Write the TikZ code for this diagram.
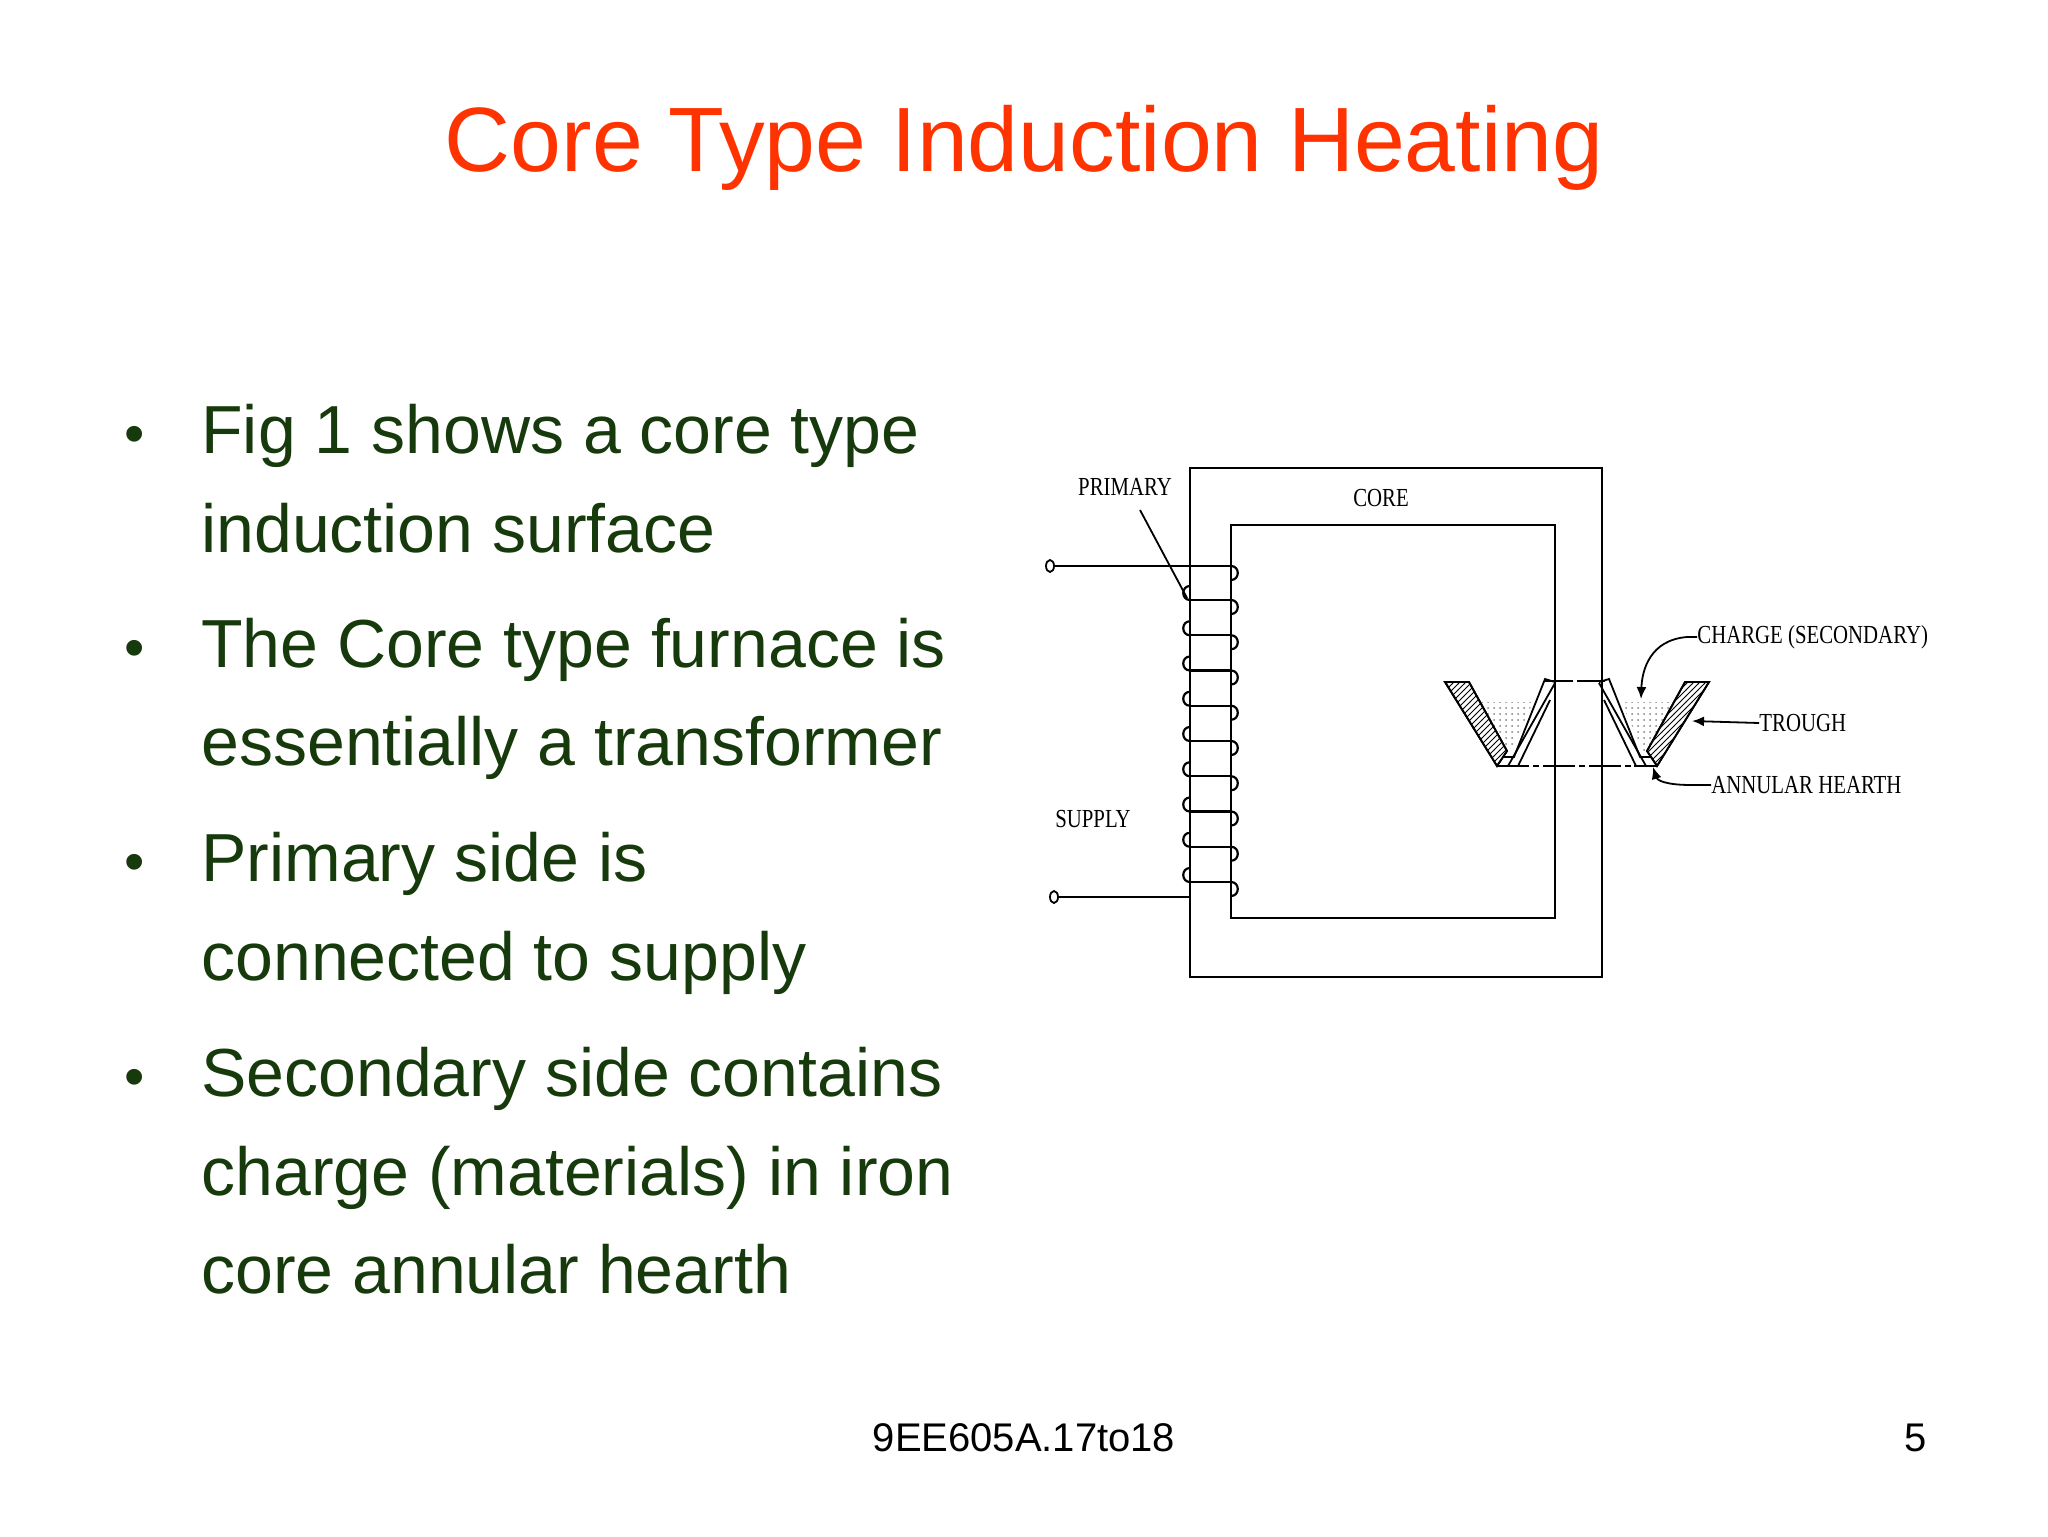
\documentclass[tikz,border=0pt]{standalone}
\usepackage{fontspec}
\setmainfont{Liberation Sans}
\newfontfamily\lab[FakeStretch=0.8]{Liberation Serif}
\usetikzlibrary{arrows.meta,patterns,shapes.geometric}
\definecolor{titlecol}{RGB}{255,51,0}
\definecolor{bulcol}{RGB}{22,58,12}
\tikzset{
  ttl/.style={text=titlecol,font=\fontsize{45.7}{50}\selectfont},
  bul/.style={text=bulcol,anchor=base west,font=\fontsize{34}{40}\selectfont,inner sep=0},
  dot/.style={text=bulcol,anchor=base,font=\fontsize{29}{30}\selectfont,inner sep=0},
  foot/.style={font=\fontsize{20}{22}\selectfont,anchor=base},
  lbl/.style={font=\lab\fontsize{13}{14}\selectfont,inner sep=0},
  core/.style={line width=1.3pt},
  wire/.style={line width=1.1pt},
  term/.style={ellipse,draw,line width=0.9pt,minimum width=4pt,minimum height=6pt,inner sep=0},
  arr/.style={line width=0.9pt,-{Latex[length=6pt,width=5pt]}}
}
\def\idL(#1){#1}
\def\mirr(#1){{3154-#1}}
\def\trough#1{%
  \fill[pattern=dots,pattern color=gray] (#1(1478),702) -- (#1(1533),702) -- (#1(1510),752) -- (#1(1503),752) -- cycle;
  \filldraw[fill=white,line width=0.9pt] (#1(1445),682) -- (#1(1469),682) -- (#1(1507),751) -- (#1(1497),766) -- cycle;
  \fill[pattern=north east lines] (#1(1445),682) -- (#1(1469),682) -- (#1(1507),751) -- (#1(1497),766) -- cycle;
  \draw[line width=0.9pt] (#1(1445),682) -- (#1(1469),682) -- (#1(1507),751) -- (#1(1497),766) -- cycle;
  \draw[line width=0.9pt] (#1(1497),766) -- (#1(1520),766);
  \draw[line width=0.9pt] (#1(1504),757) -- (#1(1514),757) -- (#1(1545),679) -- (#1(1555),682);
  \draw[line width=0.9pt] (#1(1508),766) -- (#1(1555),683);
  \draw[line width=0.9pt] (#1(1518),766) -- (#1(1550),700);
}
\begin{document}
\begin{tikzpicture}[x=0.5pt,y=-0.5pt]
\useasboundingbox (0,0) rectangle (2048,1536);
\node[ttl] (title) at (1024,148) {Core Type Induction Heating};
% bullets
\foreach \y/\t/\d in {453/Fig 1 shows a core type/1, 552/induction surface/0,
  667/The Core type furnace is/1, 765/essentially a transformer/0,
  881/Primary side is/1, 980/connected to supply/0,
  1096/Secondary side contains/1, 1195/charge (materials) in iron/0,
  1293/core annular hearth/0}{
  \node[bul] (b\y) at (201,\y) {\t};
  \ifnum\d=1 \node[dot] (d\y) at (135,\y) {\textbullet}; \fi
}
\node[foot] (foot) at (1024,1451) {9EE605A.17to18};
\node[foot] (page) at (1916,1451) {5};
% core
\draw[core] (1190,468) rectangle (1602,977);
\draw[core] (1231,525) rectangle (1555,918);
\node[lbl] (corel) at (1381,498) {CORE};
\node[lbl] (prim) at (1125,487) {PRIMARY};
\node[lbl] (sup) at (1093,819) {SUPPLY};
% terminals
\node[term] (t1) at (1050,566) {};
\node[term] (t2) at (1054,897) {};
\draw[wire] (t1) -- (1231,566);
\draw[wire] (1231,566) .. controls (1240,566) and (1240,580) .. (1231,580);
\foreach \i in {0,...,8}{
  \pgfmathsetmacro\yy{600+35.25*\i}
  \draw[wire] (1190,\yy) -- (1231,\yy);
  \draw[wire] (1190,\yy-14) .. controls (1181,\yy-14) and (1181,\yy) .. (1190,\yy);
  \draw[wire] (1231,\yy) .. controls (1240,\yy) and (1240,\yy+14) .. (1231,\yy+14);
}
\draw[wire] (t2) -- (1190,897);
\coordinate (ps) at (1140,510);
\coordinate (pe) at (1187,598);
\draw[line width=0.9pt] (ps) -- (pe);
% troughs
\trough{\idL}
\trough{\mirr}
\draw[line width=1pt,dash pattern=on 14pt off 2pt] (1545,681) -- (1609,681);
\draw[line width=1pt,dash pattern=on 16pt off 2pt on 3pt off 2pt] (1497,766) -- (1657,766);
% labels and arrows
\node[lbl,anchor=west] (chg) at (1697,637) {CHARGE (SECONDARY)};
\node[lbl,anchor=west] (tro) at (1759,723) {TROUGH};
\node[lbl,anchor=west] (ann) at (1711,785) {ANNULAR HEARTH};
\coordinate (chgtip) at (1641,699);
\coordinate (trotip) at (1692,721);
\coordinate (anntip) at (1653,767);
\draw[arr] (chg.west) -- ++(-10,0) .. controls (1650,640) and (1642,670) .. (chgtip);
\draw[arr] (tro.west) -- (trotip);
\draw[arr] (ann.west) -- ++(-20,0) .. controls (1665,785) and (1657,780) .. (anntip);
\end{tikzpicture}
\end{document}
